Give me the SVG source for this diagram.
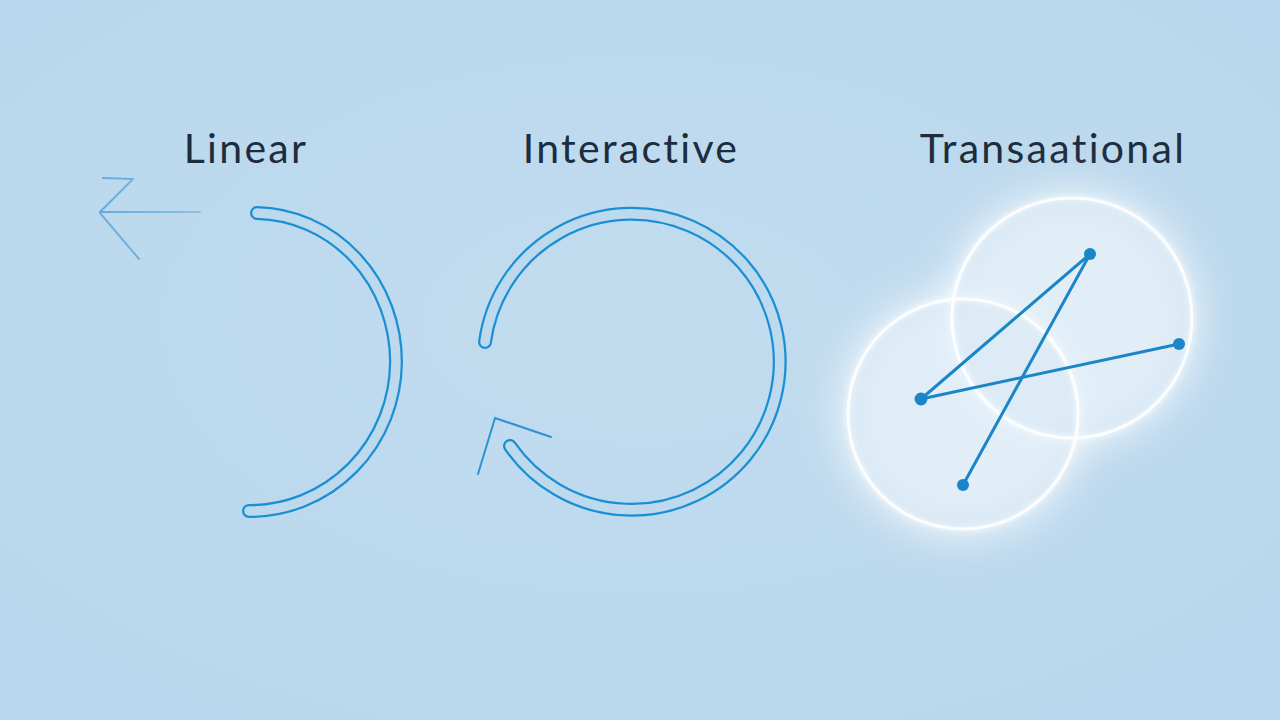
<svg xmlns="http://www.w3.org/2000/svg" width="1280" height="720" viewBox="0 0 1280 720">
<defs>
<radialGradient id="bg" cx="50%" cy="45%" r="75%">
<stop offset="0" stop-color="#c2dcef"/>
<stop offset="1" stop-color="#b8d6ec"/>
</radialGradient>
<filter id="glow" x="-50%" y="-50%" width="200%" height="200%"><feGaussianBlur stdDeviation="20"/></filter>
<filter id="soft" x="-20%" y="-20%" width="140%" height="140%"><feGaussianBlur stdDeviation="3"/></filter>
<linearGradient id="fade" x1="0" y1="0" x2="1" y2="0">
<stop offset="0" stop-color="#5ea6d8" stop-opacity="0.9"/>
<stop offset="1" stop-color="#5ea6d8" stop-opacity="0.5"/>
</linearGradient>
<style>
.title{font-family:Lato,"Liberation Sans",sans-serif;font-size:41px;letter-spacing:2.3px;fill:#1d2d3e;text-anchor:middle}
.tubeo{fill:none;stroke:#1b8fd4;stroke-width:14;stroke-linecap:round}
.tubei{fill:none;stroke:#bcd9ee;stroke-width:9.5;stroke-linecap:round}
.thin{fill:none;stroke:#2a93d2;stroke-width:2;stroke-linecap:round}
.link{fill:none;stroke:#1a86c8;stroke-width:3;stroke-linecap:round}
.dot{fill:#1a86c8}
.ring{fill:none;stroke:#ffffff;stroke-width:3}
</style>
</defs>
<rect width="1280" height="720" fill="url(#bg)"/>

<g id="linear">
<text class="title" x="246" y="163">Linear</text>
<path class="tubeo" d="M257,213 A142,149 0 0 1 396,362 A146,150 0 0 1 249,511"/>
<path class="tubei" d="M257,213 A142,149 0 0 1 396,362 A146,150 0 0 1 249,511"/>
</g>

<g id="interactive">
<text class="title" x="631" y="163">Interactive</text>
<path class="tubeo" d="M485,342 A148,148 0 1 1 510,446"/>
<path class="tubei" d="M485,342 A148,148 0 1 1 510,446"/>
</g>

<g id="transactional">
<text class="title" x="1053" y="163">Transaational</text>
<g filter="url(#glow)">
<circle cx="1072" cy="318" r="126" fill="#ffffff" fill-opacity="0.75"/>
<circle cx="963" cy="414" r="122" fill="#ffffff" fill-opacity="0.75"/>
</g>
<circle cx="1072" cy="318" r="120" fill="#d3e6f4" fill-opacity="0.5"/>
<circle cx="963" cy="414" r="115" fill="#d3e6f4" fill-opacity="0.5"/>
<g filter="url(#soft)">
<circle class="ring" cx="1072" cy="318" r="120" stroke-width="6"/>
<circle class="ring" cx="963" cy="414" r="115" stroke-width="6"/>
</g>
<circle class="ring" cx="1072" cy="318" r="120" stroke-opacity="0.85" stroke-width="2.5"/>
<circle class="ring" cx="963" cy="414" r="115" stroke-opacity="0.85" stroke-width="2.5"/>
<circle class="dot" cx="1090" cy="254" r="6"/>
<circle class="dot" cx="1179" cy="344" r="6"/>
<circle class="dot" cx="921" cy="399" r="6.5"/>
<circle class="dot" cx="963" cy="485" r="6"/>
</g>

<g id="connectors">
<path d="M200,212 L100,212 L133,179 L103,178" fill="none" stroke="url(#fade)" stroke-width="2" stroke-linecap="round" stroke-linejoin="round"/>
<path d="M100,213 L139,259" fill="none" stroke="#5ea6d8" stroke-opacity="0.8" stroke-width="2" stroke-linecap="round"/>
<path class="thin" d="M478,474 L495,418 L551,437"/>
<path class="link" d="M921,399 L1090,254 L963,485"/>
<path class="link" d="M921,399 L1179,344"/>
</g>
</svg>
